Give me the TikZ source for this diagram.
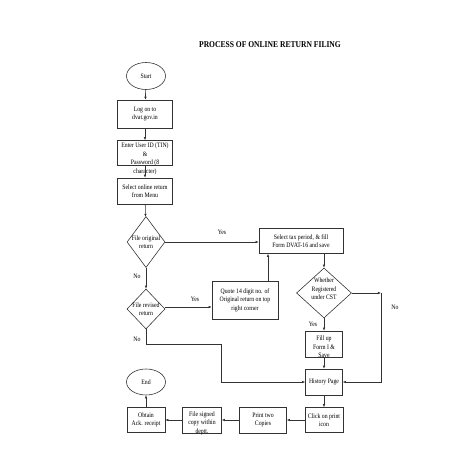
\documentclass[tikz,border=0pt]{standalone}
\usepackage{fontspec}
\setmainfont{Liberation Serif}[FakeStretch=0.85]
\usetikzlibrary{shapes.geometric, arrows.meta}

\begin{document}
\begin{tikzpicture}[
    x=0.03cm, y=-0.03cm,
    txt/.style={font=\fontsize{5.8}{7.3}\selectfont, align=center, inner sep=0pt},
    box/.style={draw=black!80, line width=0.5pt, txt, inner sep=0.5pt},
    oval/.style={box, ellipse},
    decision/.style={box, diamond},
    arr/.style={-{Latex[length=2.6pt,width=2.2pt]}, draw=black!80, line width=0.5pt},
    gtitle/.style={font=\fontsize{7.6}{8}\selectfont\bfseries, inner sep=0pt}
]
\useasboundingbox (0,0) rectangle (453,453);

\node[gtitle] (title) at (270,45) {PROCESS OF ONLINE RETURN FILING};

\node[oval, minimum width=1.17cm, minimum height=0.81cm] (start) at (146,76) {Start};
\node[box, minimum width=1.65cm, minimum height=0.84cm] (logon) at (145,114) {Log on to\\dvat.gov.in};
\node[box, minimum width=1.65cm, minimum height=0.75cm] (enter) at (145,153) {};
\node[txt] (entertext) at (145,159) {Enter User ID (TIN)\\\&\\Password (8\\character)};
\node[box, minimum width=1.65cm, minimum height=0.78cm] (menu) at (145,191) {Select online return\\from Menu};

\node[decision, minimum width=1.14cm, minimum height=1.53cm] (orig) at (146,242) {};
\node[txt] (origtext) at (orig) {File original\\return};
\node[decision, minimum width=1.14cm, minimum height=1.2cm] (rev) at (146,309) {};
\node[txt] (revtext) at (rev) {File revised\\return};

\node[box, minimum width=1.98cm, minimum height=1.14cm] (quote) at (245,300) {Quote 14 digit no. of\\Original return on top\\right corner};
\node[box, minimum width=2.52cm, minimum height=0.75cm] (tax) at (301,241) {Select tax period, \& fill\\Form DVAT-16 and save};
\node[decision, minimum width=1.65cm, minimum height=1.5cm] (cst) at (324,293) {};
\node[txt] (csttext) at (324,289) {Whether\\Registered\\under CST};
\node[box, minimum width=1.11cm, minimum height=0.78cm] (fill) at (324,344) {};
\node[txt] (filltext) at (324,347) {Fill up\\Form I \&\\Save};
\node[box, minimum width=1.11cm, minimum height=0.78cm] (hist) at (324,382) {History Page};

\node[box, minimum width=1.14cm, minimum height=0.75cm] (click) at (324,420) {Click on print\\icon};
\node[box, minimum width=1.41cm, minimum height=0.78cm] (print) at (263,420) {Print two\\Copies};
\node[box, minimum width=1.17cm, minimum height=0.78cm] (signed) at (202,420) {};
\node[txt] (signedtext) at (202,423) {File signed\\copy within\\deptt.};
\node[box, minimum width=1.14cm, minimum height=0.75cm] (obtain) at (146,420) {Obtain\\Ack. receipt};
\node[oval, minimum width=1.17cm, minimum height=0.78cm] (end) at (146,382) {End};

\node[txt] (yes1) at (222,232) {Yes};
\node[txt] (no1) at (137,276) {No};
\node[txt] (yes2) at (195,299) {Yes};
\node[txt] (no2) at (137,339) {No};
\node[txt] (yes3) at (313,324) {Yes};
\node[txt] (no3) at (395,307) {No};

\coordinate (revjog) at (221,344);
\coordinate (cstjog) at (381,293);

\draw[arr] (start) -- (logon);
\draw[arr] (logon) -- (enter);
\draw[arr] (enter) -- (menu);
\draw[arr] (menu) -- (orig);
\draw[arr] (orig) -- (rev);
\draw[arr] (orig.east) -- (orig.east -| tax.west);
\draw[arr] (rev.east |- 0,307) -- (quote.west |- 0,307);
\draw[arr] ([xshift=0.69cm]quote.north) -- ([xshift=0.69cm]quote.north |- tax.south);
\draw[arr] (tax.south -| cst.north) -- (cst.north);
\draw[arr] (cst) -- (fill);
\draw[arr] (fill) -- (hist);
\draw[arr] (cst.east) -- (cstjog);
\draw[arr] (cstjog) |- (hist.east);
\draw[arr] (rev.south) |- (revjog) |- (hist.west);
\draw[arr] (hist) -- (click);
\draw[arr] (click) -- (print);
\draw[arr] (print) -- (signed);
\draw[arr] (signed) -- (obtain);
\draw[arr] (obtain) -- (end);
\end{tikzpicture}
\end{document}
